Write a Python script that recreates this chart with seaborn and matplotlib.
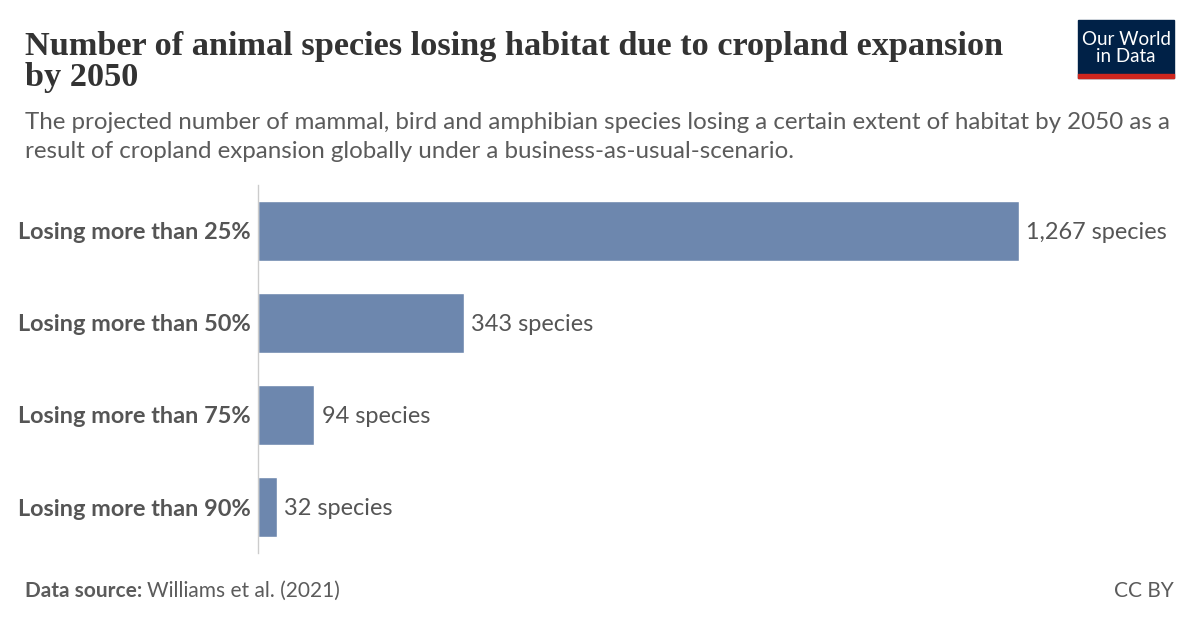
import pandas as pd
import seaborn as sns
import matplotlib.pyplot as plt
from matplotlib.patches import Rectangle

# Data
categories = ["Losing more than 25%", "Losing more than 50%",
              "Losing more than 75%", "Losing more than 90%"]
species = [1267, 343, 94, 32]

df = pd.DataFrame({"category": categories, "species": species})

sns.set_style("white")
plt.rcParams['font.family'] = ['Lato', 'DejaVu Sans']

fig = plt.figure(figsize=(12, 6.27), dpi=100)
ax = fig.add_axes([0.215, 0.118, 0.768, 0.587])

sns.barplot(data=df, x="species", y="category", orient="h",
            color="#6d87ae", saturation=1, width=0.65, ax=ax)

ax.set_xlim(0, 1535)
ax.set_ylim(3.5, -0.5)
ax.set_xlabel("")
ax.set_ylabel("")
ax.set_xticks([])
for s in ["top", "right", "bottom"]:
    ax.spines[s].set_visible(False)
ax.spines["left"].set_color("#cccccc")
ax.spines["left"].set_linewidth(1)
ax.tick_params(axis="y", length=0, pad=5)
for lbl in ax.get_yticklabels():
    lbl.set_fontsize(16.9)
    lbl.set_fontweight("bold")
    lbl.set_color("#555555")

# Value labels
for i, v in enumerate(species):
    ax.text(v + 12, i + 0.02, f"{v:,} species", va="center", ha="left",
            fontsize=16.9, color="#555555")

# Title and subtitle
fig.text(25 / 1200, 1 - 62 / 627,
         "Number of animal species losing habitat due to cropland expansion\nby 2050",
         fontsize=24.7, fontweight="bold", color="#333333",
         family=["Liberation Serif", "DejaVu Serif"], va="center", ha="left",
         linespacing=1.0)
fig.text(25 / 1200, 1 - 137 / 627,
         "The projected number of mammal, bird and amphibian species losing a certain extent of habitat by 2050 as a\n"
         "result of cropland expansion globally under a business-as-usual-scenario.",
         fontsize=17.4, color="#5b5b5b", va="center", ha="left", linespacing=1.45)

# Footer
t = fig.text(25 / 1200, 1 - 591 / 627, "Data source:", fontsize=15,
             fontweight="bold", color="#5b5b5b", va="center", ha="left")
fig.canvas.draw()
bb = t.get_window_extent()
fig.text((bb.x1 + 5) / 1200, 1 - 591 / 627, "Williams et al. (2021)",
         fontsize=15, color="#5b5b5b", va="center", ha="left")
fig.text(1174 / 1200, 1 - 591 / 627, "CC BY", fontsize=15,
         color="#5b5b5b", va="center", ha="right")

# Logo
fig.patches.append(Rectangle((1078 / 1200, 1 - 78 / 627), 96 / 1200, 58 / 627,
                             transform=fig.transFigure, color="#002147"))
fig.patches.append(Rectangle((1078 / 1200, 1 - 78 / 627), 96 / 1200, 4 / 627,
                             transform=fig.transFigure, color="#ce261e"))
fig.text(1126 / 1200, 1 - 48 / 627, "Our World\nin Data", fontsize=13.5,
         color="white", ha="center", va="center", linespacing=1.0)

fig.savefig("out.png", dpi=100)
